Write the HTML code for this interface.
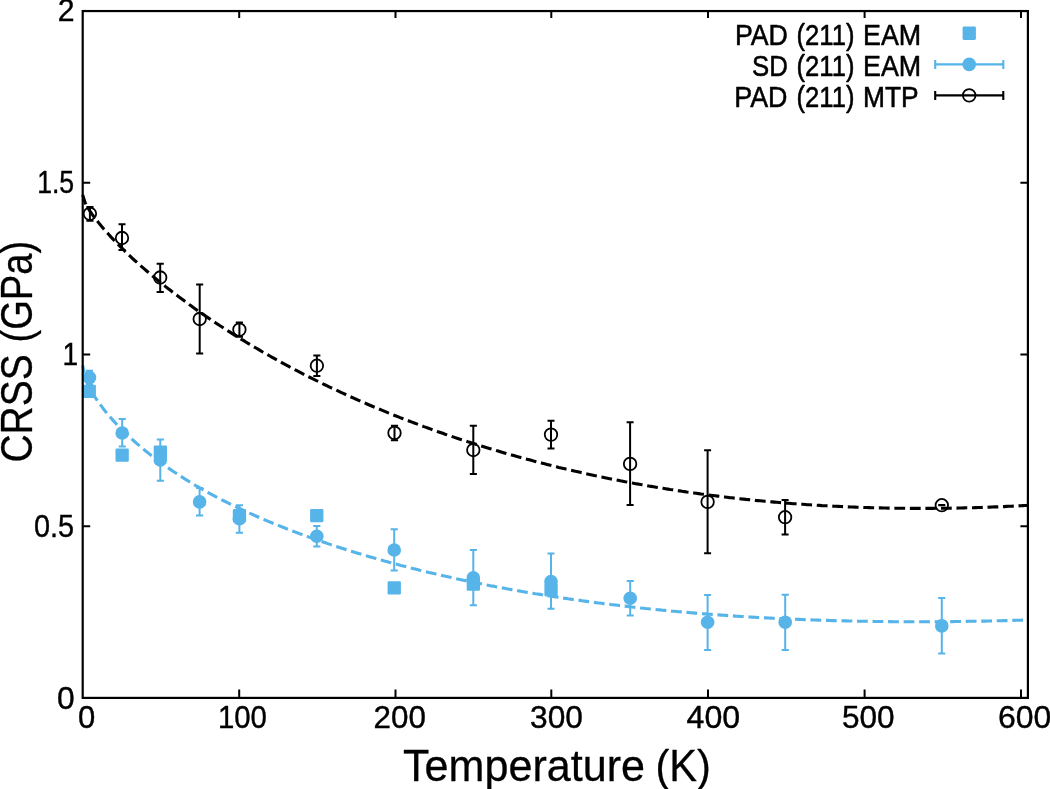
<!DOCTYPE html>
<html lang="en"><head><meta charset="utf-8"><title>CRSS vs Temperature</title>
<style>html,body{margin:0;padding:0;background:#fff;overflow:hidden}svg{display:block}text{font-family:"Liberation Sans",Arial,sans-serif;fill:#000;stroke:#000;stroke-width:0.55px;stroke-linejoin:round}.big{stroke-width:0.3px}.tk{stroke-width:0.4px}</style></head><body>
<svg width="1050" height="789" viewBox="0 0 1050 789">
<rect width="1050" height="789" fill="#fff"/>
<path d="M82.7,365.3 L85.1,377.4 L87.4,383.3 L89.8,388.1 L92.1,392.3 L94.5,396.2 L96.8,399.8 L99.2,403.2 L101.6,406.4 L103.9,409.5 L106.3,412.4 L108.6,415.2 L111.0,418.0 L113.3,420.6 L115.7,423.2 L118.0,425.7 L120.4,428.1 L122.8,430.5 L125.1,432.8 L127.5,435.1 L129.8,437.3 L132.2,439.4 L134.5,441.5 L136.9,443.6 L139.3,445.6 L141.6,447.6 L144.0,449.6 L146.3,451.5 L148.7,453.4 L151.0,455.3 L153.4,457.1 L155.8,458.9 L158.1,460.6 L160.5,462.4 L162.8,464.1 L165.2,465.8 L167.5,467.4 L169.9,469.1 L172.3,470.7 L174.6,472.3 L177.0,473.8 L179.3,475.4 L181.7,476.9 L184.0,478.4 L186.4,479.9 L188.7,481.3 L191.1,482.7 L193.5,484.2 L195.8,485.6 L198.2,486.9 L200.5,488.3 L202.9,489.6 L205.2,491.0 L207.6,492.3 L210.0,493.6 L212.3,494.8 L214.7,496.1 L217.0,497.3 L219.4,498.6 L221.7,499.8 L224.1,501.0 L226.5,502.2 L228.8,503.4 L231.2,504.5 L233.5,505.7 L235.9,506.8 L238.2,507.9 L240.6,509.0 L243.0,510.1 L245.3,511.2 L247.7,512.3 L250.0,513.4 L252.4,514.4 L254.7,515.5 L257.1,516.5 L259.4,517.6 L261.8,518.6 L264.2,519.6 L266.5,520.6 L268.9,521.6 L271.2,522.5 L273.6,523.5 L275.9,524.5 L278.3,525.4 L280.7,526.4 L283.0,527.3 L285.4,528.2 L287.7,529.2 L290.1,530.1 L292.4,531.0 L294.8,531.9 L297.2,532.8 L299.5,533.6 L301.9,534.5 L304.2,535.4 L306.6,536.2 L308.9,537.1 L311.3,537.9 L313.7,538.8 L316.0,539.6 L318.4,540.4 L320.7,541.2 L323.1,542.0 L325.4,542.8 L327.8,543.6 L330.1,544.4 L332.5,545.2 L334.9,546.0 L337.2,546.8 L339.6,547.5 L341.9,548.3 L344.3,549.0 L346.6,549.8 L349.0,550.5 L351.4,551.2 L353.7,552.0 L356.1,552.7 L358.4,553.4 L360.8,554.1 L363.1,554.8 L365.5,555.5 L367.9,556.2 L370.2,556.9 L372.6,557.6 L374.9,558.2 L377.3,558.9 L379.6,559.6 L382.0,560.2 L384.4,560.9 L386.7,561.5 L389.1,562.2 L391.4,562.8 L393.8,563.5 L396.1,564.1 L398.5,564.7 L400.8,565.4 L403.2,566.0 L405.6,566.6 L407.9,567.2 L410.3,567.8 L412.6,568.4 L415.0,569.0 L417.3,569.6 L419.7,570.2 L422.1,570.7 L424.4,571.3 L426.8,571.9 L429.1,572.5 L431.5,573.0 L433.8,573.6 L436.2,574.1 L438.6,574.7 L440.9,575.2 L443.3,575.8 L445.6,576.3 L448.0,576.8 L450.3,577.3 L452.7,577.9 L455.0,578.4 L457.4,578.9 L459.8,579.4 L462.1,579.9 L464.5,580.4 L466.8,580.9 L469.2,581.4 L471.5,581.9 L473.9,582.4 L476.3,582.9 L478.6,583.3 L481.0,583.8 L483.3,584.3 L485.7,584.7 L488.0,585.2 L490.4,585.7 L492.8,586.1 L495.1,586.6 L497.5,587.0 L499.8,587.4 L502.2,587.9 L504.5,588.3 L506.9,588.8 L509.3,589.2 L511.6,589.6 L514.0,590.0 L516.3,590.4 L518.7,590.9 L521.0,591.3 L523.4,591.7 L525.7,592.1 L528.1,592.5 L530.5,592.9 L532.8,593.3 L535.2,593.7 L537.5,594.0 L539.9,594.4 L542.2,594.8 L544.6,595.2 L547.0,595.6 L549.3,595.9 L551.7,596.3 L554.0,596.7 L556.4,597.0 L558.7,597.4 L561.1,597.7 L563.5,598.1 L565.8,598.4 L568.2,598.8 L570.5,599.1 L572.9,599.5 L575.2,599.8 L577.6,600.1 L580.0,600.4 L582.3,600.8 L584.7,601.1 L587.0,601.4 L589.4,601.7 L591.7,602.0 L594.1,602.4 L596.4,602.7 L598.8,603.0 L601.2,603.3 L603.5,603.6 L605.9,603.9 L608.2,604.2 L610.6,604.5 L612.9,604.7 L615.3,605.0 L617.7,605.3 L620.0,605.6 L622.4,605.9 L624.7,606.1 L627.1,606.4 L629.4,606.7 L631.8,607.0 L634.2,607.2 L636.5,607.5 L638.9,607.7 L641.2,608.0 L643.6,608.2 L645.9,608.5 L648.3,608.7 L650.7,609.0 L653.0,609.2 L655.4,609.5 L657.7,609.7 L660.1,609.9 L662.4,610.2 L664.8,610.4 L667.1,610.6 L669.5,610.8 L671.9,611.1 L674.2,611.3 L676.6,611.5 L678.9,611.7 L681.3,611.9 L683.6,612.1 L686.0,612.3 L688.4,612.5 L690.7,612.7 L693.1,612.9 L695.4,613.1 L697.8,613.3 L700.1,613.5 L702.5,613.7 L704.9,613.9 L707.2,614.1 L709.6,614.2 L711.9,614.4 L714.3,614.6 L716.6,614.8 L719.0,614.9 L721.3,615.1 L723.7,615.3 L726.1,615.4 L728.4,615.6 L730.8,615.8 L733.1,615.9 L735.5,616.1 L737.8,616.2 L740.2,616.4 L742.6,616.5 L744.9,616.7 L747.3,616.8 L749.6,617.0 L752.0,617.1 L754.3,617.2 L756.7,617.4 L759.1,617.5 L761.4,617.6 L763.8,617.8 L766.1,617.9 L768.5,618.0 L770.8,618.1 L773.2,618.3 L775.6,618.4 L777.9,618.5 L780.3,618.6 L782.6,618.7 L785.0,618.8 L787.3,618.9 L789.7,619.0 L792.0,619.1 L794.4,619.2 L796.8,619.3 L799.1,619.4 L801.5,619.5 L803.8,619.6 L806.2,619.7 L808.5,619.8 L810.9,619.9 L813.3,620.0 L815.6,620.0 L818.0,620.1 L820.3,620.2 L822.7,620.3 L825.0,620.4 L827.4,620.4 L829.8,620.5 L832.1,620.6 L834.5,620.6 L836.8,620.7 L839.2,620.8 L841.5,620.8 L843.9,620.9 L846.3,620.9 L848.6,621.0 L851.0,621.0 L853.3,621.1 L855.7,621.1 L858.0,621.2 L860.4,621.2 L862.7,621.3 L865.1,621.3 L867.5,621.3 L869.8,621.4 L872.2,621.4 L874.5,621.5 L876.9,621.5 L879.2,621.5 L881.6,621.5 L884.0,621.6 L886.3,621.6 L888.7,621.6 L891.0,621.6 L893.4,621.7 L895.7,621.7 L898.1,621.7 L900.5,621.7 L902.8,621.7 L905.2,621.7 L907.5,621.7 L909.9,621.7 L912.2,621.7 L914.6,621.7 L917.0,621.7 L919.3,621.7 L921.7,621.7 L924.0,621.7 L926.4,621.7 L928.7,621.7 L931.1,621.7 L933.4,621.7 L935.8,621.7 L938.2,621.7 L940.5,621.7 L942.9,621.6 L945.2,621.6 L947.6,621.6 L949.9,621.6 L952.3,621.6 L954.7,621.5 L957.0,621.5 L959.4,621.5 L961.7,621.4 L964.1,621.4 L966.4,621.4 L968.8,621.3 L971.2,621.3 L973.5,621.3 L975.9,621.2 L978.2,621.2 L980.6,621.1 L982.9,621.1 L985.3,621.1 L987.7,621.0 L990.0,621.0 L992.4,620.9 L994.7,620.9 L997.1,620.8 L999.4,620.7 L1001.8,620.7 L1004.1,620.6 L1006.5,620.6 L1008.9,620.5 L1011.2,620.4 L1013.6,620.4 L1015.9,620.3 L1018.3,620.2 L1020.6,620.2 L1023.0,620.1" fill="none" stroke="#56b4e9" stroke-width="3.1" stroke-dasharray="10.8 4.73" stroke-dashoffset="3.10"/>
<path d="M82.7,194.9 L85.1,202.7 L87.4,207.0 L89.8,210.8 L92.2,214.3 L94.5,217.5 L96.9,220.6 L99.3,223.6 L101.7,226.4 L104.0,229.2 L106.4,231.9 L108.8,234.5 L111.1,237.1 L113.5,239.6 L115.9,242.1 L118.2,244.5 L120.6,246.9 L123.0,249.2 L125.3,251.6 L127.7,253.8 L130.1,256.1 L132.4,258.3 L134.8,260.5 L137.2,262.6 L139.6,264.7 L141.9,266.8 L144.3,268.9 L146.7,271.0 L149.0,273.0 L151.4,275.0 L153.8,277.0 L156.1,278.9 L158.5,280.9 L160.9,282.8 L163.2,284.7 L165.6,286.6 L168.0,288.5 L170.4,290.3 L172.7,292.2 L175.1,294.0 L177.5,295.8 L179.8,297.6 L182.2,299.3 L184.6,301.1 L186.9,302.8 L189.3,304.6 L191.7,306.3 L194.0,308.0 L196.4,309.7 L198.8,311.3 L201.1,313.0 L203.5,314.6 L205.9,316.3 L208.3,317.9 L210.6,319.5 L213.0,321.1 L215.4,322.7 L217.7,324.2 L220.1,325.8 L222.5,327.3 L224.8,328.9 L227.2,330.4 L229.6,331.9 L231.9,333.4 L234.3,334.9 L236.7,336.4 L239.0,337.8 L241.4,339.3 L243.8,340.7 L246.2,342.2 L248.5,343.6 L250.9,345.0 L253.3,346.4 L255.6,347.8 L258.0,349.2 L260.4,350.6 L262.7,352.0 L265.1,353.3 L267.5,354.7 L269.8,356.0 L272.2,357.3 L274.6,358.7 L277.0,360.0 L279.3,361.3 L281.7,362.6 L284.1,363.9 L286.4,365.1 L288.8,366.4 L291.2,367.7 L293.5,368.9 L295.9,370.2 L298.3,371.4 L300.6,372.6 L303.0,373.9 L305.4,375.1 L307.7,376.3 L310.1,377.5 L312.5,378.7 L314.9,379.8 L317.2,381.0 L319.6,382.2 L322.0,383.3 L324.3,384.5 L326.7,385.6 L329.1,386.8 L331.4,387.9 L333.8,389.0 L336.2,390.1 L338.5,391.2 L340.9,392.3 L343.3,393.4 L345.7,394.5 L348.0,395.6 L350.4,396.7 L352.8,397.7 L355.1,398.8 L357.5,399.8 L359.9,400.9 L362.2,401.9 L364.6,402.9 L367.0,404.0 L369.3,405.0 L371.7,406.0 L374.1,407.0 L376.4,408.0 L378.8,409.0 L381.2,409.9 L383.6,410.9 L385.9,411.9 L388.3,412.9 L390.7,413.8 L393.0,414.8 L395.4,415.7 L397.8,416.6 L400.1,417.6 L402.5,418.5 L404.9,419.4 L407.2,420.3 L409.6,421.2 L412.0,422.1 L414.3,423.0 L416.7,423.9 L419.1,424.8 L421.5,425.7 L423.8,426.6 L426.2,427.4 L428.6,428.3 L430.9,429.1 L433.3,430.0 L435.7,430.8 L438.0,431.7 L440.4,432.5 L442.8,433.3 L445.1,434.2 L447.5,435.0 L449.9,435.8 L452.3,436.6 L454.6,437.4 L457.0,438.2 L459.4,439.0 L461.7,439.7 L464.1,440.5 L466.5,441.3 L468.8,442.1 L471.2,442.8 L473.6,443.6 L475.9,444.3 L478.3,445.1 L480.7,445.8 L483.0,446.5 L485.4,447.3 L487.8,448.0 L490.2,448.7 L492.5,449.4 L494.9,450.1 L497.3,450.8 L499.6,451.5 L502.0,452.2 L504.4,452.9 L506.7,453.6 L509.1,454.3 L511.5,454.9 L513.8,455.6 L516.2,456.3 L518.6,456.9 L521.0,457.6 L523.3,458.2 L525.7,458.9 L528.1,459.5 L530.4,460.1 L532.8,460.8 L535.2,461.4 L537.5,462.0 L539.9,462.6 L542.3,463.2 L544.6,463.8 L547.0,464.4 L549.4,465.0 L551.7,465.6 L554.1,466.2 L556.5,466.8 L558.9,467.4 L561.2,467.9 L563.6,468.5 L566.0,469.1 L568.3,469.6 L570.7,470.2 L573.1,470.7 L575.4,471.3 L577.8,471.8 L580.2,472.3 L582.5,472.9 L584.9,473.4 L587.3,473.9 L589.6,474.4 L592.0,474.9 L594.4,475.5 L596.8,476.0 L599.1,476.5 L601.5,476.9 L603.9,477.4 L606.2,477.9 L608.6,478.4 L611.0,478.9 L613.3,479.4 L615.7,479.8 L618.1,480.3 L620.4,480.8 L622.8,481.2 L625.2,481.7 L627.6,482.1 L629.9,482.6 L632.3,483.0 L634.7,483.4 L637.0,483.9 L639.4,484.3 L641.8,484.7 L644.1,485.1 L646.5,485.5 L648.9,486.0 L651.2,486.4 L653.6,486.8 L656.0,487.2 L658.3,487.6 L660.7,487.9 L663.1,488.3 L665.5,488.7 L667.8,489.1 L670.2,489.5 L672.6,489.8 L674.9,490.2 L677.3,490.6 L679.7,490.9 L682.0,491.3 L684.4,491.6 L686.8,492.0 L689.1,492.3 L691.5,492.7 L693.9,493.0 L696.3,493.3 L698.6,493.6 L701.0,494.0 L703.4,494.3 L705.7,494.6 L708.1,494.9 L710.5,495.2 L712.8,495.5 L715.2,495.8 L717.6,496.1 L719.9,496.4 L722.3,496.7 L724.7,497.0 L727.0,497.3 L729.4,497.6 L731.8,497.8 L734.2,498.1 L736.5,498.4 L738.9,498.6 L741.3,498.9 L743.6,499.1 L746.0,499.4 L748.4,499.6 L750.7,499.9 L753.1,500.1 L755.5,500.4 L757.8,500.6 L760.2,500.8 L762.6,501.0 L764.9,501.3 L767.3,501.5 L769.7,501.7 L772.1,501.9 L774.4,502.1 L776.8,502.3 L779.2,502.5 L781.5,502.7 L783.9,502.9 L786.3,503.1 L788.6,503.3 L791.0,503.5 L793.4,503.7 L795.7,503.8 L798.1,504.0 L800.5,504.2 L802.9,504.3 L805.2,504.5 L807.6,504.7 L810.0,504.8 L812.3,505.0 L814.7,505.1 L817.1,505.3 L819.4,505.4 L821.8,505.6 L824.2,505.7 L826.5,505.8 L828.9,505.9 L831.3,506.1 L833.6,506.2 L836.0,506.3 L838.4,506.4 L840.8,506.5 L843.1,506.6 L845.5,506.8 L847.9,506.9 L850.2,507.0 L852.6,507.0 L855.0,507.1 L857.3,507.2 L859.7,507.3 L862.1,507.4 L864.4,507.5 L866.8,507.5 L869.2,507.6 L871.6,507.7 L873.9,507.8 L876.3,507.8 L878.7,507.9 L881.0,507.9 L883.4,508.0 L885.8,508.0 L888.1,508.1 L890.5,508.1 L892.9,508.2 L895.2,508.2 L897.6,508.2 L900.0,508.3 L902.3,508.3 L904.7,508.3 L907.1,508.3 L909.5,508.4 L911.8,508.4 L914.2,508.4 L916.6,508.4 L918.9,508.4 L921.3,508.4 L923.7,508.4 L926.0,508.4 L928.4,508.4 L930.8,508.4 L933.1,508.4 L935.5,508.3 L937.9,508.3 L940.2,508.3 L942.6,508.3 L945.0,508.2 L947.4,508.2 L949.7,508.2 L952.1,508.1 L954.5,508.1 L956.8,508.1 L959.2,508.0 L961.6,508.0 L963.9,507.9 L966.3,507.8 L968.7,507.8 L971.0,507.7 L973.4,507.7 L975.8,507.6 L978.2,507.5 L980.5,507.5 L982.9,507.4 L985.3,507.3 L987.6,507.2 L990.0,507.1 L992.4,507.0 L994.7,506.9 L997.1,506.9 L999.5,506.8 L1001.8,506.7 L1004.2,506.6 L1006.6,506.4 L1008.9,506.3 L1011.3,506.2 L1013.7,506.1 L1016.1,506.0 L1018.4,505.9 L1020.8,505.7 L1023.2,505.6 L1025.5,505.5 L1027.9,505.4" fill="none" stroke="#000" stroke-width="3.1" stroke-dasharray="10.8 4.73" stroke-dashoffset="0.80"/>
<rect x="82.6" y="384.8" width="13.3" height="13.3" rx="1.3" fill="#56b4e9"/>
<rect x="115.5" y="448.4" width="13.3" height="13.3" rx="1.3" fill="#56b4e9"/>
<rect x="153.7" y="445.4" width="13.3" height="13.3" rx="1.3" fill="#56b4e9"/>
<rect x="232.8" y="509.1" width="13.3" height="13.3" rx="1.3" fill="#56b4e9"/>
<rect x="310.1" y="509.0" width="13.3" height="13.3" rx="1.3" fill="#56b4e9"/>
<rect x="387.6" y="581.2" width="13.3" height="13.3" rx="1.3" fill="#56b4e9"/>
<rect x="466.7" y="577.5" width="13.3" height="13.3" rx="1.3" fill="#56b4e9"/>
<rect x="544.4" y="583.1" width="13.3" height="13.3" rx="1.3" fill="#56b4e9"/>
<path d="M89.5,370.8V384.6M86.0,370.8H93.0M86.0,384.6H93.0" stroke="#56b4e9" stroke-width="2.0" fill="none"/>
<circle cx="89.5" cy="377.6" r="6.8" fill="#56b4e9"/>
<path d="M122.2,419.1V446.5M118.7,419.1H125.8M118.7,446.5H125.8" stroke="#56b4e9" stroke-width="2.0" fill="none"/>
<circle cx="122.2" cy="433.0" r="6.8" fill="#56b4e9"/>
<path d="M160.3,439.6V480.8M156.8,439.6H163.9M156.8,480.8H163.9" stroke="#56b4e9" stroke-width="2.0" fill="none"/>
<circle cx="160.3" cy="460.0" r="6.8" fill="#56b4e9"/>
<path d="M199.6,488.0V515.4M196.0,488.0H203.2M196.0,515.4H203.2" stroke="#56b4e9" stroke-width="2.0" fill="none"/>
<circle cx="199.6" cy="501.9" r="6.8" fill="#56b4e9"/>
<path d="M239.4,505.3V532.8M235.8,505.3H243.0M235.8,532.8H243.0" stroke="#56b4e9" stroke-width="2.0" fill="none"/>
<circle cx="239.4" cy="518.8" r="6.8" fill="#56b4e9"/>
<path d="M316.8,526.0V546.4M313.2,526.0H320.4M313.2,546.4H320.4" stroke="#56b4e9" stroke-width="2.0" fill="none"/>
<circle cx="316.8" cy="536.3" r="6.8" fill="#56b4e9"/>
<path d="M394.2,529.3V570.5M390.6,529.3H397.8M390.6,570.5H397.8" stroke="#56b4e9" stroke-width="2.0" fill="none"/>
<circle cx="394.2" cy="550.0" r="6.8" fill="#56b4e9"/>
<path d="M473.3,550.0V605.2M469.8,550.0H476.9M469.8,605.2H476.9" stroke="#56b4e9" stroke-width="2.0" fill="none"/>
<circle cx="473.3" cy="577.7" r="6.8" fill="#56b4e9"/>
<path d="M551.0,553.6V608.7M547.5,553.6H554.5M547.5,608.7H554.5" stroke="#56b4e9" stroke-width="2.0" fill="none"/>
<circle cx="551.0" cy="581.5" r="6.8" fill="#56b4e9"/>
<path d="M630.2,581.0V615.6M626.7,581.0H633.8M626.7,615.6H633.8" stroke="#56b4e9" stroke-width="2.0" fill="none"/>
<circle cx="630.2" cy="598.2" r="6.8" fill="#56b4e9"/>
<path d="M707.6,595.0V650.0M704.1,595.0H711.1M704.1,650.0H711.1" stroke="#56b4e9" stroke-width="2.0" fill="none"/>
<circle cx="707.6" cy="622.3" r="6.8" fill="#56b4e9"/>
<path d="M785.2,594.7V650.0M781.7,594.7H788.8M781.7,650.0H788.8" stroke="#56b4e9" stroke-width="2.0" fill="none"/>
<circle cx="785.2" cy="622.3" r="6.8" fill="#56b4e9"/>
<path d="M941.8,598.1V653.6M938.2,598.1H945.3M938.2,653.6H945.3" stroke="#56b4e9" stroke-width="2.0" fill="none"/>
<circle cx="941.8" cy="625.9" r="6.8" fill="#56b4e9"/>
<path d="M89.9,207.1V220.8M86.4,207.1H93.5M86.4,220.8H93.5" stroke="#000" stroke-width="2.0" fill="none"/>
<circle cx="89.9" cy="213.8" r="6.25" fill="none" stroke="#000" stroke-width="1.8"/>
<path d="M122.0,224.3V250.1M118.5,224.3H125.5M118.5,250.1H125.5" stroke="#000" stroke-width="2.0" fill="none"/>
<circle cx="122.0" cy="238.0" r="6.25" fill="none" stroke="#000" stroke-width="1.8"/>
<path d="M160.2,263.8V292.0M156.6,263.8H163.8M156.6,292.0H163.8" stroke="#000" stroke-width="2.0" fill="none"/>
<circle cx="160.2" cy="277.5" r="6.25" fill="none" stroke="#000" stroke-width="1.8"/>
<path d="M199.7,284.6V353.6M196.1,284.6H203.2M196.1,353.6H203.2" stroke="#000" stroke-width="2.0" fill="none"/>
<circle cx="199.7" cy="319.0" r="6.25" fill="none" stroke="#000" stroke-width="1.8"/>
<path d="M239.4,322.4V336.8M235.8,322.4H243.0M235.8,336.8H243.0" stroke="#000" stroke-width="2.0" fill="none"/>
<circle cx="239.4" cy="329.6" r="6.25" fill="none" stroke="#000" stroke-width="1.8"/>
<path d="M316.9,355.5V376.0M313.3,355.5H320.4M313.3,376.0H320.4" stroke="#000" stroke-width="2.0" fill="none"/>
<circle cx="316.9" cy="365.7" r="6.25" fill="none" stroke="#000" stroke-width="1.8"/>
<path d="M394.5,425.7V440.2M390.9,425.7H398.1M390.9,440.2H398.1" stroke="#000" stroke-width="2.0" fill="none"/>
<circle cx="394.5" cy="432.9" r="6.25" fill="none" stroke="#000" stroke-width="1.8"/>
<path d="M473.3,425.7V473.9M469.8,425.7H476.9M469.8,473.9H476.9" stroke="#000" stroke-width="2.0" fill="none"/>
<circle cx="473.3" cy="450.0" r="6.25" fill="none" stroke="#000" stroke-width="1.8"/>
<path d="M551.0,420.8V448.5M547.5,420.8H554.5M547.5,448.5H554.5" stroke="#000" stroke-width="2.0" fill="none"/>
<circle cx="551.0" cy="434.6" r="6.25" fill="none" stroke="#000" stroke-width="1.8"/>
<path d="M630.1,422.3V505.0M626.6,422.3H633.6M626.6,505.0H633.6" stroke="#000" stroke-width="2.0" fill="none"/>
<circle cx="630.1" cy="463.9" r="6.25" fill="none" stroke="#000" stroke-width="1.8"/>
<path d="M707.6,450.3V553.2M704.1,450.3H711.1M704.1,553.2H711.1" stroke="#000" stroke-width="2.0" fill="none"/>
<circle cx="707.6" cy="501.9" r="6.25" fill="none" stroke="#000" stroke-width="1.8"/>
<path d="M785.1,500.0V534.5M781.6,500.0H788.6M781.6,534.5H788.6" stroke="#000" stroke-width="2.0" fill="none"/>
<circle cx="785.1" cy="517.2" r="6.25" fill="none" stroke="#000" stroke-width="1.8"/>
<path d="M941.8,504.9V505.2M938.2,504.9H945.3M938.2,505.2H945.3" stroke="#000" stroke-width="2.0" fill="none"/>
<circle cx="941.8" cy="505.2" r="6.25" fill="none" stroke="#000" stroke-width="1.8"/>
<rect x="82.7" y="11.05" width="945.20" height="686.85" fill="none" stroke="#000" stroke-width="2.2"/>
<path d="M239.2,697.9v-8.5M239.2,11.05v7M395.5,697.9v-8.5M395.5,11.05v7M551.3,697.9v-8.5M551.3,11.05v7M708.0,697.9v-8.5M708.0,11.05v7M864.6,697.9v-8.5M864.6,11.05v7M1021.0,697.9v-8.5M1021.0,11.05v7M82.7,526.2h7.5M1027.9,526.2h-7.5M82.7,354.5h7.5M1027.9,354.5h-7.5M82.7,182.8h7.5M1027.9,182.8h-7.5" stroke="#000" stroke-width="2" fill="none"/>
<text y="727.8" font-size="31" class="tk"><tspan x="77.93" textLength="17.25" lengthAdjust="spacingAndGlyphs">0</tspan></text>
<text y="727.8" font-size="31" class="tk"><tspan x="217.97" textLength="48.99" lengthAdjust="spacingAndGlyphs">100</tspan></text>
<text y="727.8" font-size="31" class="tk"><tspan x="373.60" textLength="52.34" lengthAdjust="spacingAndGlyphs">200</tspan></text>
<text y="727.8" font-size="31" class="tk"><tspan x="530.08" textLength="52.87" lengthAdjust="spacingAndGlyphs">300</tspan></text>
<text y="727.8" font-size="31" class="tk"><tspan x="686.55" textLength="53.62" lengthAdjust="spacingAndGlyphs">400</tspan></text>
<text y="727.8" font-size="31" class="tk"><tspan x="842.01" textLength="52.64" lengthAdjust="spacingAndGlyphs">500</tspan></text>
<text y="727.8" font-size="31" class="tk"><tspan x="997.97" textLength="53.29" lengthAdjust="spacingAndGlyphs">600</tspan></text>
<text y="708.5" font-size="31" class="tk"><tspan x="57.00" textLength="17.66" lengthAdjust="spacingAndGlyphs">0</tspan></text>
<text y="536.8" font-size="31" class="tk"><tspan x="34.01" textLength="40.18" lengthAdjust="spacingAndGlyphs">0.5</tspan></text>
<text y="365.3" font-size="31" class="tk"><tspan x="62.46" textLength="15.64" lengthAdjust="spacingAndGlyphs">1</tspan></text>
<text y="193.4" font-size="31" class="tk"><tspan x="37.17" textLength="37.03" lengthAdjust="spacingAndGlyphs">1.5</tspan></text>
<text y="21.4" font-size="31" class="tk"><tspan x="57.86" textLength="16.82" lengthAdjust="spacingAndGlyphs">2</tspan></text>
<text y="781.3" font-size="45" class="big"><tspan x="403.05" textLength="242.02" lengthAdjust="spacingAndGlyphs">Temperature</tspan> <tspan x="655.42" textLength="55.48" lengthAdjust="spacingAndGlyphs">(K)</tspan></text>
<g transform="translate(31.6,460.7) rotate(-90)"><text y="0" font-size="44.5" class="big"><tspan x="-1.83" textLength="108.19" lengthAdjust="spacingAndGlyphs">CRSS</tspan> <tspan x="118.13" textLength="101.92" lengthAdjust="spacingAndGlyphs">(GPa)</tspan></text></g>
<text y="44.95" font-size="29"><tspan x="734.97" textLength="52.92" lengthAdjust="spacingAndGlyphs">PAD</tspan> <tspan x="796.57" textLength="57.87" lengthAdjust="spacingAndGlyphs">(211)</tspan> <tspan x="863.01" textLength="58.12" lengthAdjust="spacingAndGlyphs">EAM</tspan></text>
<text y="75.6" font-size="29"><tspan x="752.01" textLength="35.82" lengthAdjust="spacingAndGlyphs">SD</tspan> <tspan x="796.57" textLength="57.87" lengthAdjust="spacingAndGlyphs">(211)</tspan> <tspan x="863.01" textLength="58.12" lengthAdjust="spacingAndGlyphs">EAM</tspan></text>
<text y="106.5" font-size="29"><tspan x="734.25" textLength="53.24" lengthAdjust="spacingAndGlyphs">PAD</tspan> <tspan x="796.57" textLength="57.87" lengthAdjust="spacingAndGlyphs">(211)</tspan> <tspan x="863.05" textLength="55.62" lengthAdjust="spacingAndGlyphs">MTP</tspan></text>
<rect x="962.6" y="26.6" width="13.3" height="13.3" rx="1.3" fill="#56b4e9"/>
<path d="M935.2,64.4H1003.3M935.2,59.900000000000006v9M1003.3,59.900000000000006v9" stroke="#56b4e9" stroke-width="2.1" fill="none"/>
<path d="M935.2,95.4H1003.3M935.2,90.9v9M1003.3,90.9v9" stroke="#000" stroke-width="2.1" fill="none"/>
<circle cx="969.2" cy="64.4" r="6.8" fill="#56b4e9"/>
<circle cx="969.2" cy="95.4" r="6.25" fill="none" stroke="#000" stroke-width="1.8"/>
</svg></body></html>
